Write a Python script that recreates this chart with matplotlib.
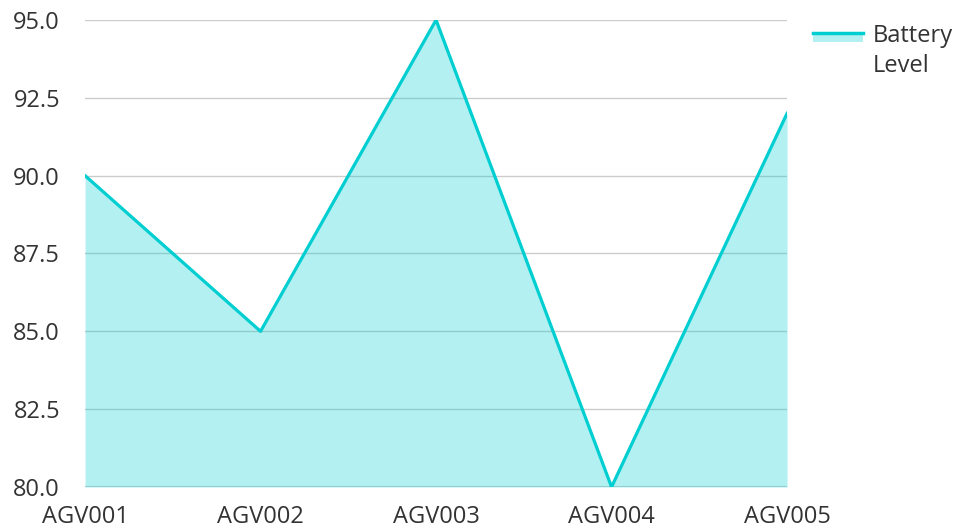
import matplotlib.pyplot as plt
from matplotlib.lines import Line2D
from matplotlib.patches import Rectangle
from matplotlib.legend_handler import HandlerBase

vehicles = ['AGV001', 'AGV002', 'AGV003', 'AGV004', 'AGV005']
battery = [90, 85, 95, 80, 92]
yticks = [80.0, 82.5, 85.0, 87.5, 90.0, 92.5, 95.0]

plt.rcParams['font.family'] = ['Open Sans', 'DejaVu Sans']
color = '#00CED1'


class LineOverPatch(HandlerBase):
    # legend key: solid line with the translucent fill swatch right under it
    def create_artists(self, legend, orig_handle, xdescent, ydescent,
                       width, height, fontsize, trans):
        top = height * 1.4
        rect = Rectangle((-xdescent, top - height * 0.5), width, height * 0.5,
                         facecolor=color, alpha=0.3, linewidth=0, transform=trans)
        line = Line2D([-xdescent, width - xdescent], [top, top],
                      color=color, linewidth=2.5, transform=trans)
        return [rect, line]


fig = plt.figure(figsize=(9.61, 5.29), dpi=100)
ax = fig.add_axes([0.0885, 0.0794, 0.7305, 0.8828])

x = list(range(len(vehicles)))
ax.fill_between(x, battery, 80, color=color, alpha=0.3, linewidth=0, zorder=2)
ax.plot(x, battery, color=color, linewidth=2.3, zorder=3)

ax.set_xlim(0, len(vehicles) - 1)
ax.set_ylim(80, 95)
ax.set_xticks(x)
ax.set_xticklabels(vehicles)
ax.set_yticks(yticks)
ax.set_yticklabels([f'{v:.1f}' for v in yticks])
ax.grid(axis='y', color='#cccccc', linewidth=1, zorder=1)
ax.axhline(80, color='#8fcfcf', linewidth=1.5, zorder=2.5)
for s in ax.spines.values():
    s.set_visible(False)
ax.tick_params(length=0, labelsize=17, colors='#333333')
ax.tick_params(axis='x', pad=13)
ax.tick_params(axis='y', pad=18)

leg = fig.legend([object()], ['Battery\nLevel'], loc='upper left',
                 bbox_to_anchor=(0.824, 0.994), frameon=False, fontsize=17,
                 handlelength=2.1, handleheight=0.9, handletextpad=0.42,
                 labelcolor='#333333',
                 handler_map={object: LineOverPatch()})
for t in leg.get_texts():
    t.set_linespacing(1.3)

fig.savefig('out.png', dpi=100)
